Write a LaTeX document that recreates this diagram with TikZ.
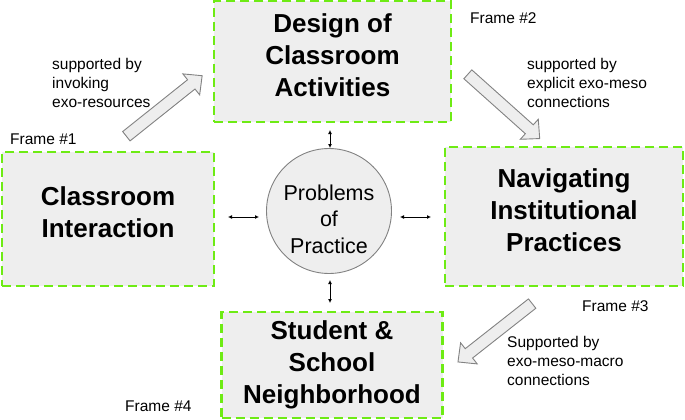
\documentclass[tikz,border=0pt]{standalone}
\usepackage{fontspec}
\setmainfont{Liberation Sans}
\usetikzlibrary{arrows.meta,shapes.arrows}
\definecolor{frgreen}{RGB}{110,235,20}
\definecolor{boxgray}{RGB}{238,238,238}
\definecolor{edgegray}{RGB}{130,130,130}
\begin{document}
\begin{tikzpicture}[x=1pt,y=-1pt,
 frame/.style={draw=frgreen, line width=2.6pt, dash pattern=on 9pt off 5pt, fill=boxgray, inner sep=0pt, align=center, font=\fontsize{26}{32}\selectfont\bfseries},
 lift/.style={text depth=13pt},
 lbl/.style={anchor=north west, align=left, font=\fontsize{15.5}{19}\selectfont, inner sep=0pt},
 frm/.style={anchor=base west, font=\fontsize{15.5}{19}\selectfont, inner sep=0pt},
 blk/.style={single arrow, draw=edgegray, fill=boxgray, line width=0.9pt, inner sep=5.5pt, minimum width=26pt, single arrow head extend=7.5pt, single arrow tip angle=88, anchor=tail},
 dbl/.style={{Latex[length=4pt,width=4pt]}-{Latex[length=4pt,width=4pt]}, line width=0.8pt}]
\useasboundingbox (0,0) rectangle (685,420);
% frames
\node[frame, lift, minimum width=212pt, minimum height=134pt] (ci) at (108,219) {Classroom\\Interaction};
\node[frame, lift, minimum width=237pt, minimum height=121pt] (dca) at (332.5,61.5) {Design of\\Classroom\\Activities};
\node[frame, lift, minimum width=238pt, minimum height=139pt] (nip) at (564,216.5) {Navigating\\Institutional\\Practices};
\node[frame, minimum width=221pt, minimum height=106pt] (ssn) at (332,365) {Student \&\\School\\Neighborhood};
% centre circle
\node[circle, draw=edgegray, line width=0.9pt, fill=boxgray, minimum size=124pt, inner sep=0pt, align=center, text height=85.5pt, font=\fontsize{21.5}{26.7}\selectfont] (pp) at (329,211) {Problems\\of\\Practice};
% small double arrows
\coordinate (t1) at (330,130); \coordinate (t2) at (330,148);
\coordinate (b1) at (330,280); \coordinate (b2) at (330,303);
\coordinate (l1) at (228,217); \coordinate (l2) at (259,217);
\coordinate (r1) at (400,217); \coordinate (r2) at (431,217);
\draw[dbl] (t1) -- (t2);
\draw[dbl] (b1) -- (b2);
\draw[dbl] (l1) -- (l2);
\draw[dbl] (r1) -- (r2);
% block arrows
\node[blk, minimum height=97pt, rotate=38.6] (ba1) at (126,136.5) {};
\node[blk, minimum height=96.4pt, rotate=-41.8] (ba2) at (467.5,74) {};
\node[blk, minimum height=94.4pt, rotate=218.2] (ba3) at (532.5,303.3) {};
% labels
\node[lbl] (s1) at (52,58.5) {supported by\\invoking\\exo-resources};
\node[lbl] (s2) at (527,58.5) {supported by\\explicit exo-meso\\connections};
\node[lbl] (s3) at (507,336.5) {Supported by\\exo-meso-macro\\connections};
\node[frm] (f1) at (10,144) {Frame \#1};
\node[frm] (f2) at (470,24) {Frame \#2};
\node[frm] (f3) at (582,311) {Frame \#3};
\node[frm] (f4) at (125,411) {Frame \#4};
\end{tikzpicture}
\end{document}
